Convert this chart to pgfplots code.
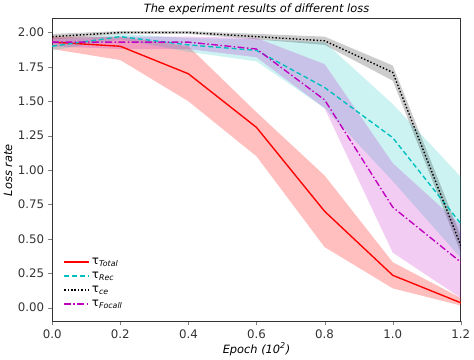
\documentclass[border=0pt]{standalone}
\usepackage{pgfplots}
\pgfplotsset{compat=1.18}
\usepackage{fontspec}
\setmainfont{DejaVu Sans}
\definecolor{mc}{rgb}{0,0.75,0.75}
\definecolor{mm}{rgb}{0.75,0,0.75}
\definecolor{tk}{HTML}{333333}
\begin{document}
\fontsize{11.5}{13}\selectfont
\begin{tikzpicture}
\begin{axis}[
  scale only axis,
  width=416pt, height=308pt,
  xmin=0, xmax=1.2, ymin=-0.1, ymax=2.1,
  xtick={0,0.2,0.4,0.6,0.8,1.0,1.2},
  ytick={0,0.25,0.5,0.75,1.0,1.25,1.5,1.75,2.0},
  xticklabel style={/pgf/number format/.cd,fixed,fixed zerofill,precision=1},
  yticklabel style={/pgf/number format/.cd,fixed,fixed zerofill,precision=2},
  /pgf/number format/assume math mode=true,
  tick label style={font=\fontsize{12}{14}\selectfont, text=tk},
  tick align=outside, xtick pos=bottom, ytick pos=left,
  major tick length=4pt,
  axis line style={draw=tk, line width=0.9pt},
  title={\itshape The experiment results of different loss},
  title style={yshift=-6pt, font=\fontsize{11.6}{13}\selectfont},
  xlabel={\itshape Epoch (10\textsuperscript{2})},
  ylabel={\itshape Loss rate},
  label style={font=\fontsize{11.6}{13}\selectfont},
  xlabel style={yshift=3pt},
  ylabel style={yshift=-2pt},
  legend style={at={(0.02,0.03)}, anchor=south west, draw=none, fill=none,
    font=\fontsize{12}{14}\selectfont, row sep=2pt},
  legend cell align=left,
  legend image code/.code={\draw[#1] (0cm,0cm) -- (0.9cm,0cm);},
  every axis plot/.append style={line width=1.4pt},
]
% bands
\addplot[draw=none, fill=red, fill opacity=0.25, forget plot] coordinates {
 (0,1.97) (0.2,1.97) (0.4,1.90) (0.6,1.42) (0.8,0.96) (1.0,0.33) (1.2,0.07)
 (1.2,0.015) (1.0,0.14) (0.8,0.44) (0.6,1.10) (0.4,1.50) (0.2,1.80) (0,1.88)} -- cycle;
\addplot[draw=none, fill=mc, fill opacity=0.2, forget plot] coordinates {
 (0,1.95) (0.2,1.99) (0.4,1.96) (0.6,1.95) (0.8,1.93) (1.0,1.48) (1.2,0.95)
 (1.2,0.36) (1.0,0.92) (0.8,1.45) (0.6,1.79) (0.4,1.86) (0.2,1.95) (0,1.87)} -- cycle;
\addplot[draw=none, fill=black, fill opacity=0.2, forget plot] coordinates {
 (0,1.99) (0.2,2.01) (0.4,2.01) (0.6,1.99) (0.8,1.97) (1.0,1.76) (1.2,0.52)
 (1.2,0.40) (1.0,1.65) (0.8,1.91) (0.6,1.95) (0.4,1.99) (0.2,1.99) (0,1.95)} -- cycle;
\addplot[draw=none, fill=mm, fill opacity=0.2, forget plot] coordinates {
 (0,1.96) (0.2,1.97) (0.4,1.97) (0.6,1.96) (0.8,1.77) (1.0,1.05) (1.2,0.60)
 (1.2,0.07) (1.0,0.40) (0.8,1.45) (0.6,1.82) (0.4,1.88) (0.2,1.88) (0,1.90)} -- cycle;
% lines
\addplot[red, solid] coordinates {
 (0,1.93) (0.2,1.90) (0.4,1.70) (0.6,1.31) (0.8,0.70) (1.0,0.235) (1.2,0.035)};
\addlegendentry{τ\textsubscript{\itshape Total}}
\addplot[mc, dash pattern=on 5pt off 3pt] coordinates {
 (0,1.90) (0.2,1.97) (0.4,1.91) (0.6,1.87) (0.8,1.60) (1.0,1.235) (1.2,0.61)};
\addlegendentry{τ\textsubscript{\itshape Rec}}
\addplot[black, dash pattern=on 1.5pt off 2pt] coordinates {
 (0,1.97) (0.2,2.00) (0.4,2.00) (0.6,1.97) (0.8,1.94) (1.0,1.71) (1.2,0.45)};
\addlegendentry{τ\textsubscript{\itshape ce}}
\addplot[mm, dash pattern=on 7pt off 2.5pt on 1.5pt off 2.5pt] coordinates {
 (0,1.93) (0.2,1.93) (0.4,1.93) (0.6,1.88) (0.8,1.51) (1.0,0.73) (1.2,0.33)};
\addlegendentry{τ\textsubscript{\itshape Focall}}
\end{axis}
\end{tikzpicture}
\end{document}
